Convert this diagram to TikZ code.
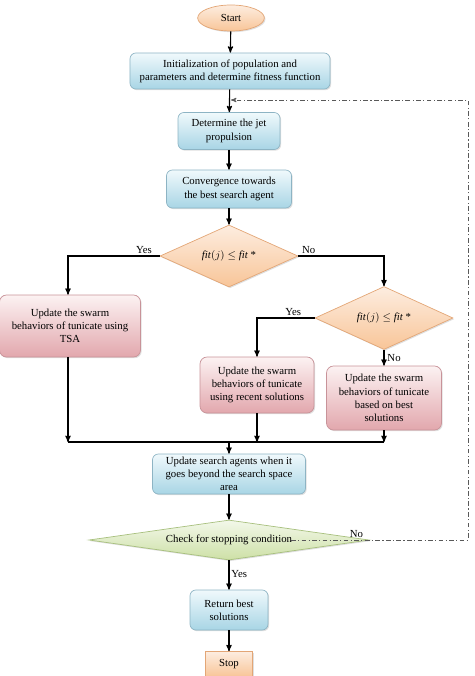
\documentclass[tikz,border=0pt]{standalone}
\usepackage{fontspec}
\setmainfont{Liberation Serif}
\usetikzlibrary{shapes.geometric,arrows,shadows}
\definecolor{bluetop}{HTML}{F0F9FC}
\definecolor{bluebot}{HTML}{A8D5E5}
\definecolor{blueline}{HTML}{8DB4C4}
\definecolor{pinktop}{HTML}{FCF2F2}
\definecolor{pinkbot}{HTML}{E2A7AD}
\definecolor{pinkline}{HTML}{C89399}
\definecolor{orangetop}{HTML}{FDEDE0}
\definecolor{orangebot}{HTML}{F8C598}
\definecolor{orangeline}{HTML}{E3A676}
\definecolor{greentop}{HTML}{F3F8EA}
\definecolor{greenbot}{HTML}{CDE0A6}
\definecolor{greenline}{HTML}{A8C07E}
\tikzset{
    txt/.style={font=\fontsize{9.2}{11.3}\selectfont, align=center, inner sep=2pt, line width=0.6pt},
    shade/.style={drop shadow={opacity=.25, shadow xshift=1pt, shadow yshift=-1pt}},
    bluebox/.style={txt, shade, rectangle, rounded corners=5pt, draw=blueline,
        top color=bluetop, bottom color=bluebot},
    pinkbox/.style={txt, shade, rectangle, rounded corners=6pt, draw=pinkline,
        top color=pinktop, bottom color=pinkbot},
    decision/.style={txt, shade, diamond, aspect=2.2, inner sep=0pt, draw=orangeline,
        top color=orangetop, bottom color=orangebot},
    lbl/.style={font=\fontsize{9.2}{11}\selectfont, inner sep=1.5pt},
    line/.style={line width=0.95pt},
    arrow/.style={line, ->, >=stealth'}
}
\begin{document}
\begin{tikzpicture}[x=0.03cm, y=-0.03cm]
    \useasboundingbox (0,0) rectangle (474,676);

    % main column
    \node[txt, shade, ellipse, draw=orangeline, top color=orangetop, bottom color=orangebot,
        minimum width=2cm, minimum height=0.78cm] (start) at (231,18) {Start};
    \node[bluebox, minimum width=6cm, minimum height=1.08cm] (init) at (230,71)
        {Initialization of population and\\parameters and determine fitness function};
    \node[bluebox, minimum width=3.06cm, minimum height=1.11cm] (jet) at (229,131)
        {Determine the jet\\propulsion};
    \node[bluebox, minimum width=3.75cm, minimum height=1.14cm] (conv) at (229,189)
        {Convergence towards\\the best search agent};
    \node[decision, minimum width=4.14cm, minimum height=1.86cm] (fit1) at (229,256)
        {\textit{fit}$\left(j\right)\leq$ \textit{fit} *};

    % branches
    \node[pinkbox, minimum width=4.23cm, minimum height=1.86cm] (tsa) at (70,326)
        {Update the swarm\\behaviors of tunicate using\\TSA};
    \node[decision, minimum width=4.14cm, minimum height=1.89cm] (fit2) at (384,318)
        {\textit{fit}$\left(j\right)\leq$ \textit{fit} *};
    \node[pinkbox, minimum width=3.42cm, minimum height=1.68cm] (recent) at (257,385)
        {Update the swarm\\behaviors of tunicate\\using recent solutions};
    \node[pinkbox, minimum width=3.45cm, minimum height=1.92cm] (best) at (384,398)
        {Update the swarm\\behaviors of tunicate\\based on best\\solutions};

    % lower column
    \node[bluebox, inner ysep=0pt, minimum width=4.59cm, minimum height=1.2cm] (upd) at (229,474)
        {Update search agents when it\\goes beyond the search space\\area};
    \node[txt, shade, diamond, aspect=7, inner sep=0pt, draw=greenline,
        top color=greentop, bottom color=greenbot,
        minimum width=8.4cm, minimum height=1.2cm] (stopchk) at (229,540)
        {Check for stopping condition};
    \node[bluebox, minimum width=2.34cm, minimum height=1.2cm] (ret) at (229,610)
        {Return best\\solutions};
    \node[txt, shade, rectangle, draw=orangeline, top color=orangetop, bottom color=orangebot,
        minimum width=1.41cm, minimum height=0.75cm] (stop) at (229,664) {Stop};

    \coordinate (mL) at (68,442);
    \coordinate (mR) at (384,442);
    \coordinate (mC) at (229,442);
    \coordinate (nostart) at (291,540);
    \coordinate (back) at (231,100);

    % connectors
    \draw[arrow] (start) -- (init);
    \draw[arrow] (init) -- (jet);
    \draw[arrow] (jet) -- (conv);
    \draw[arrow] (conv) -- (fit1);
    \draw[arrow] (fit1.west) -- node[lbl, above, pos=0.17] {Yes} (fit1.west -| mL) -- (tsa.north -| mL);
    \draw[arrow] (fit1.east) -- node[lbl, above, pos=0.12] {No} (fit1.east -| fit2) -- (fit2.north);
    \draw[arrow] (fit2.west) -- node[lbl, above, pos=0.37] {Yes} (fit2.west -| recent) -- (recent.north);
    \draw[arrow] (fit2.south) -- node[lbl, right, xshift=1pt] {No} (best.north);
    \draw[arrow] (tsa.south -| mL) -- (mL);
    \draw[arrow] (recent.south) -- (recent.south |- mL);
    \draw[arrow] (best.south) -- (mR);
    \draw[line] (mL) -- (mR);
    \draw[arrow] (mC) -- (upd.north);
    \draw[arrow] (upd) -- (stopchk);
    \draw[arrow] (stopchk.south) -- node[lbl, right, pos=0.45] {Yes} (ret.north);
    \draw[arrow] (ret) -- (stop);
    \draw[line, line width=0.7pt, black!65, dash pattern=on 4pt off 2pt on 1pt off 2pt, ->, >=stealth']
        (nostart) -- node[lbl, above, pos=0.37, black] {No} (468,540)
        -- (468,100) -- (back);
\end{tikzpicture}
\end{document}
